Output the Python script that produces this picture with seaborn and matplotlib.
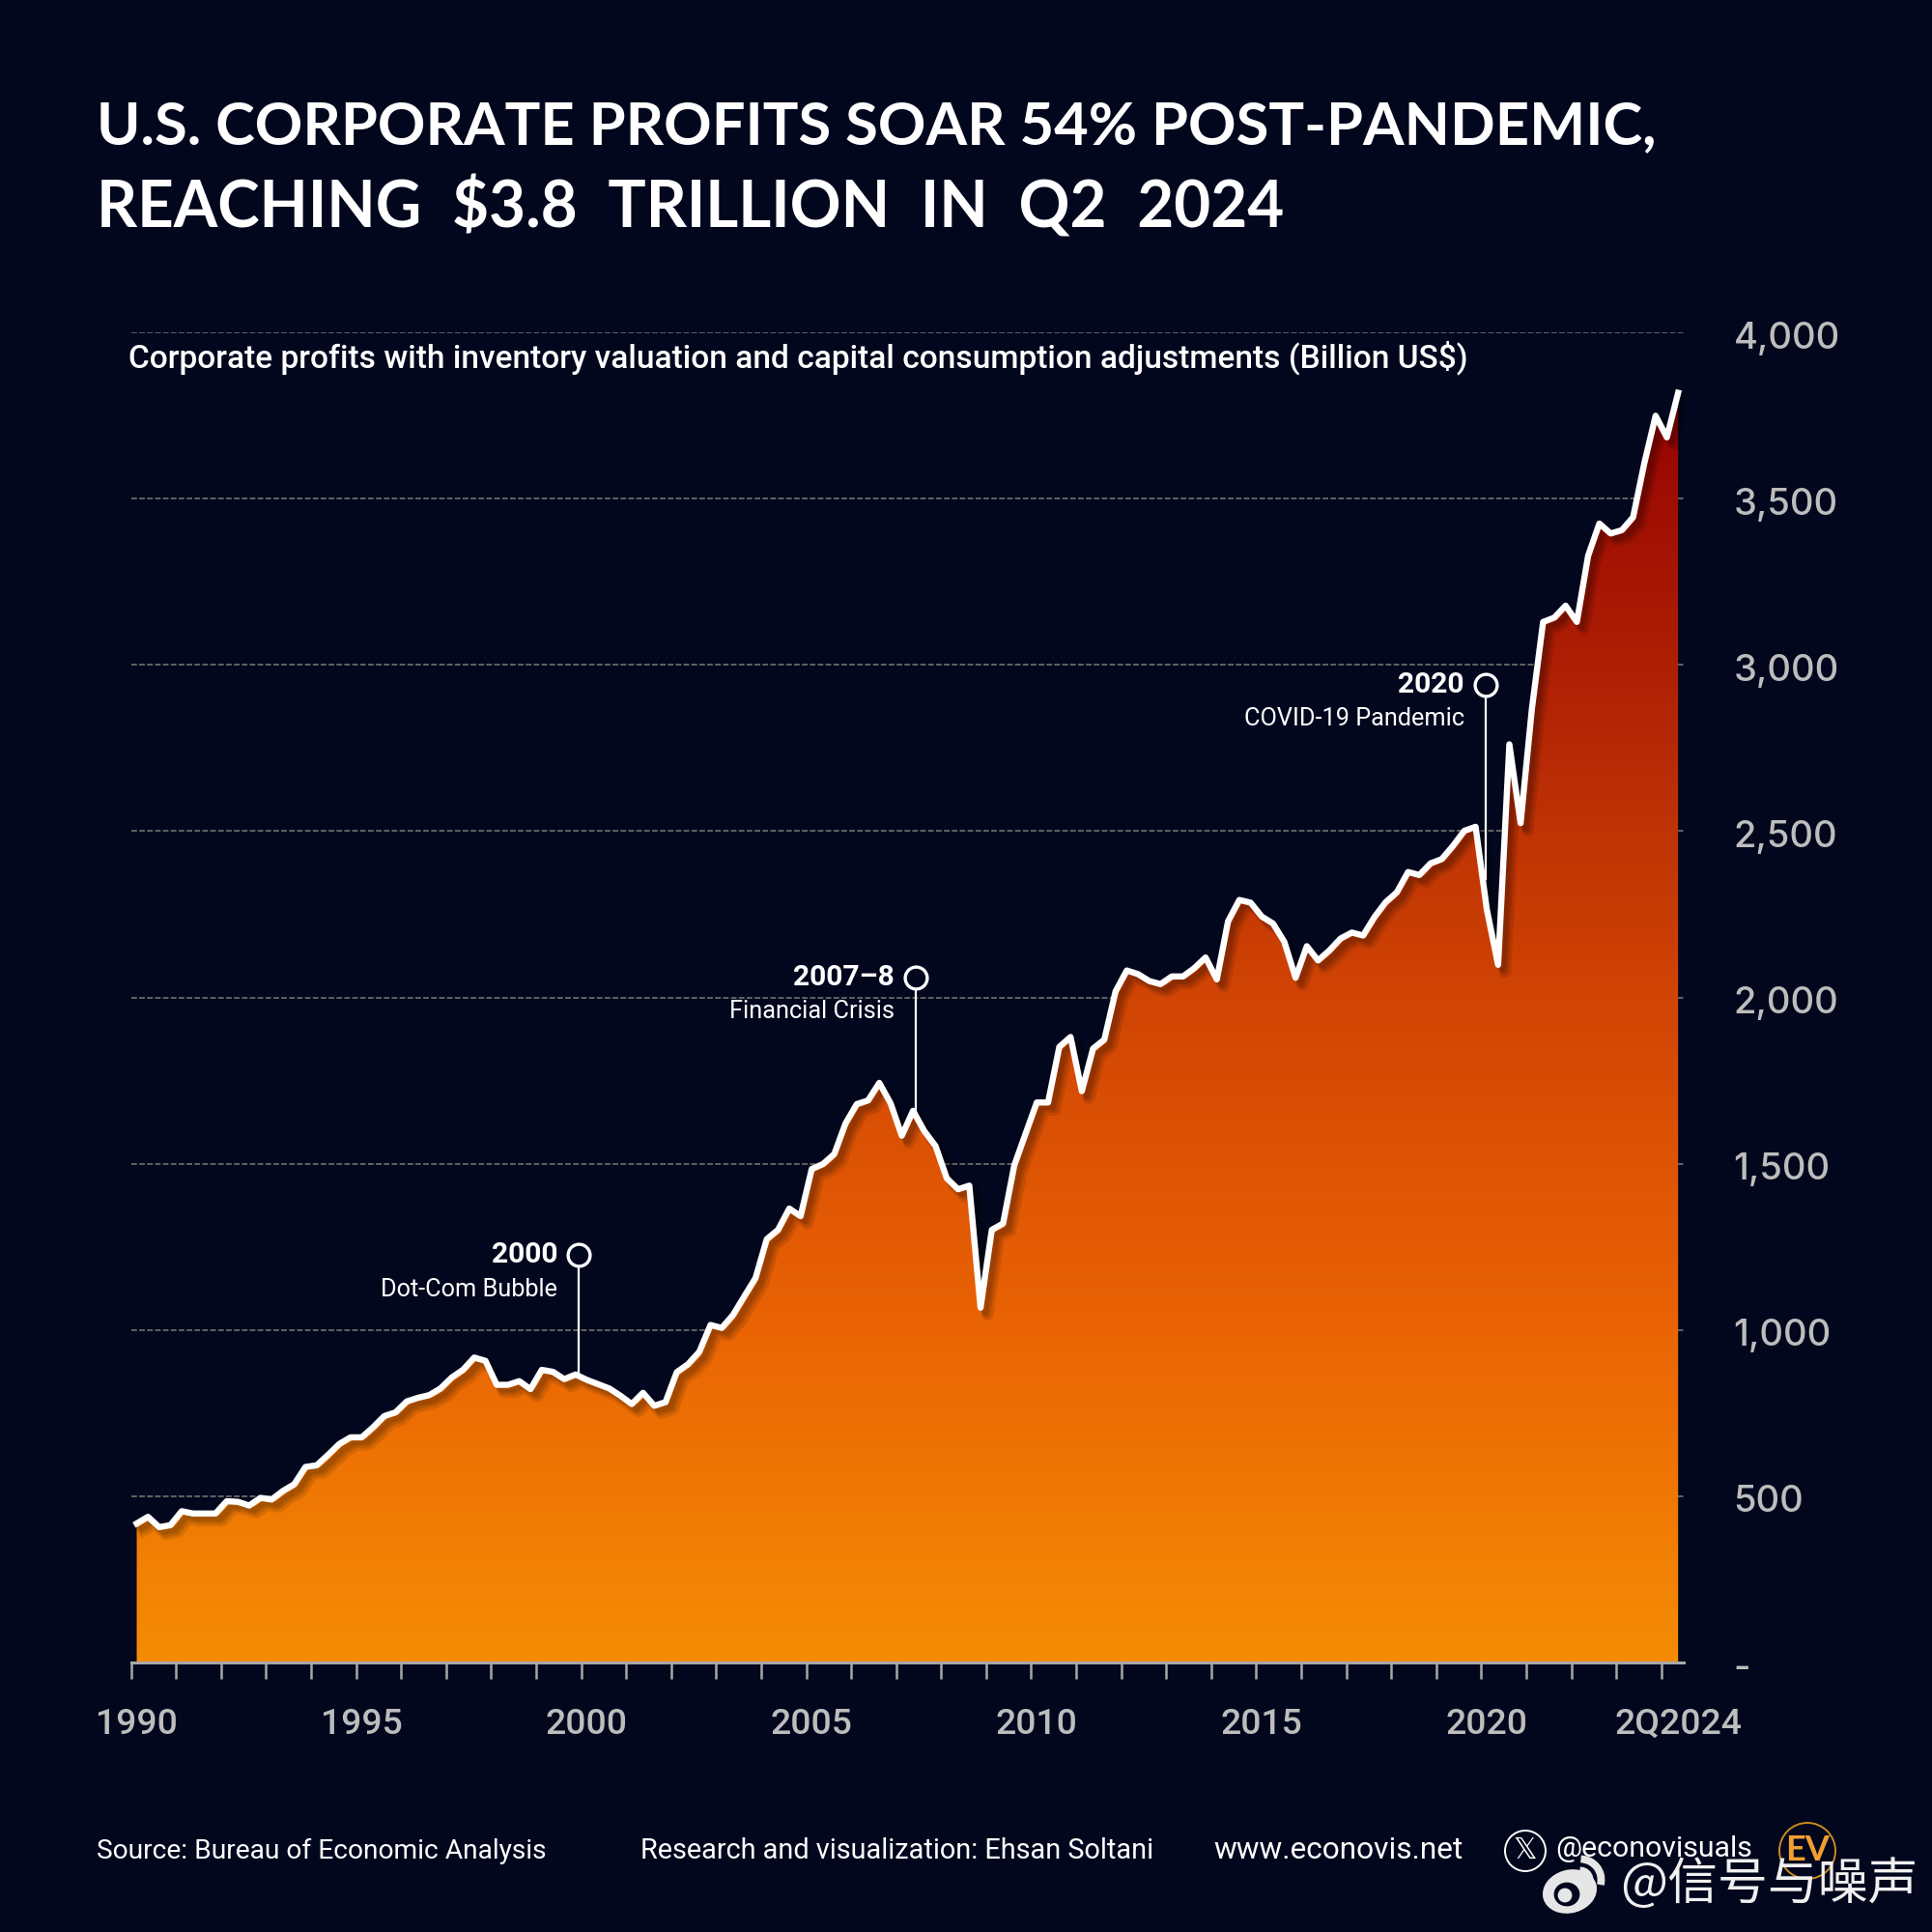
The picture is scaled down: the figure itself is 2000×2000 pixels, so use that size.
#!/usr/bin/env python
"""Plot U.S. corporate profits with a gradient area under the line."""
import matplotlib.pyplot as plt
import numpy as np
import seaborn as sns
from matplotlib import patheffects
from matplotlib.colors import LinearSegmentedColormap
from matplotlib.patches import Circle, Ellipse, Wedge
from matplotlib.transforms import ScaledTranslation

BG_COLOR = "#02071e"

# Quarterly values, 1Q1990 to 2Q2024
PROFITS = [
    418, 438, 407, 413, 455, 448, 448, 448, 485, 483,
    472, 495, 490, 516, 536, 588, 593, 624, 657, 677,
    677, 707, 741, 752, 785, 796, 804, 824, 857, 880,
    917, 907, 835, 835, 846, 822, 880, 874, 852, 866,
    850, 837, 824, 802, 777, 811, 772, 783, 873, 897,
    934, 1015, 1006, 1045, 1101, 1156, 1273, 1301, 1365, 1342,
    1484, 1499, 1529, 1621, 1679, 1690, 1743, 1682, 1584, 1659,
    1598, 1553, 1456, 1423, 1434, 1067, 1301, 1320, 1495, 1590,
    1684, 1684, 1851, 1881, 1718, 1846, 1873, 2018, 2081, 2070,
    2049, 2040, 2063, 2063, 2088, 2120, 2054, 2229, 2293, 2285,
    2243, 2222, 2167, 2059, 2154, 2111, 2141, 2177, 2195, 2186,
    2241, 2286, 2316, 2377, 2368, 2403, 2416, 2456, 2501, 2513,
    2264, 2098, 2761, 2524, 2867, 3129, 3142, 3178, 3129, 3328,
    3425, 3395, 3405, 3444, 3607, 3749, 3684, 3818,
]

Y_TICKS = [0, 500, 1000, 1500, 2000, 2500, 3000, 3500, 4000]
Y_LABELS = ["-", "500", "1,000", "1,500", "2,000", "2,500", "3,000", "3,500", "4,000"]
X_LABEL_YEARS = [1990, 1995, 2000, 2005, 2010, 2015, 2020]
LAST_LABEL = "2Q2024"

EVENT_YEARS = [1999.95, 2007.43, 2020.1]
EVENT_TOPS = [1226, 2060, 2940]
EVENT_BOTTOMS = [866, 1659, 2355]
EVENT_DATES = ["2000", "2007\u20138", "2020"]
EVENT_NAMES = ["Dot-Com Bubble", "Financial Crisis", "COVID-19 Pandemic"]

GRADIENT_LEVELS = [0, 1000, 2000, 2500, 3000, 3830]
GRADIENT_COLORS = ["#f58c05", "#ea6404", "#d04404", "#bf3305", "#ae1f05", "#960202"]

# Double spaces on the second line stand in for the wider tracking of the original
TITLE_LINES = [
    "U.S. CORPORATE PROFITS SOAR 54% POST-PANDEMIC,",
    "REACHING  $3.8  TRILLION  IN  Q2  2024",
]
SUBTITLE = "Corporate profits with inventory valuation and capital consumption adjustments (Billion US$)"
SOURCE = "Source: Bureau of Economic Analysis"
CREDIT = "Research and visualization: Ehsan Soltani"
WEBSITE = "www.econovis.net"
HANDLE = "@econovisuals"
WATERMARK = "@\u4fe1\u53f7\u4e0e\u566a\u58f0"

NARROW = "Roboto"


def fx(px):
    """Pixel column to figure fraction."""
    return px / 2000


def fy(px):
    """Pixel row (from the top) to figure fraction."""
    return 1 - px / 2000


def plot_area(ax, x, y):
    """Draw the gradient area and the white line."""
    cmap = LinearSegmentedColormap.from_list(
        "profits", [(lvl / GRADIENT_LEVELS[-1], c) for lvl, c in zip(GRADIENT_LEVELS, GRADIENT_COLORS)]
    )
    gradient = np.linspace(0, 1, 512).reshape(-1, 1)
    area = ax.fill_between(x, y, 0, color="none")
    im = ax.imshow(
        gradient, cmap=cmap, origin="lower", aspect="auto", zorder=2,
        extent=[1990, 2024.5, 0, GRADIENT_LEVELS[-1]],
    )
    im.set_clip_path(area.get_paths()[0], ax.transData)

    # Stacked shadows fake the soft blur of the original
    sns.lineplot(
        x=x, y=y, ax=ax, color="white", linewidth=2.3, zorder=4, errorbar=None,
        solid_joinstyle="round",
        path_effects=[
            patheffects.SimpleLineShadow(offset=(2.6, -2.6), shadow_color="black", alpha=0.1, linewidth=4.5),
            patheffects.SimpleLineShadow(offset=(2.2, -2.2), shadow_color="black", alpha=0.12, linewidth=3.2),
            patheffects.SimpleLineShadow(offset=(1.8, -1.8), shadow_color="black", alpha=0.12, linewidth=2.2),
            patheffects.Normal(),
        ],
    )


def plot_events(ax):
    """Draw the three event callouts."""
    for year, top, bottom, date, name in zip(
        EVENT_YEARS, EVENT_TOPS, EVENT_BOTTOMS, EVENT_DATES, EVENT_NAMES
    ):
        ax.plot([year, year], [top, bottom], color="white", linewidth=0.8, zorder=5)
        ax.plot(year, top, "o", ms=8.2, mfc=BG_COLOR, mec="white", mew=1.2, zorder=6)
        ax.annotate(date, (year, top), xytext=(-8, 0), textcoords="offset points", ha="right",
                    va="center", color="white", fontsize=10.8, family="Roboto", weight="bold", zorder=6)
        ax.annotate(name, (year, top), xytext=(-8, -12.8), textcoords="offset points", ha="right",
                    va="center", color="white", fontsize=9.1, family=NARROW, zorder=6)


def style_axes(ax, fig):
    """Set the limits, the grid and the tick labels."""
    ax.set_xlim(1990, 2024.5)
    ax.set_ylim(0, 4000)
    ax.set_xlabel("")
    ax.set_ylabel("")
    sns.despine(ax=ax, left=True, right=True, top=True)
    ax.spines["bottom"].set_color("#a8a8a8")
    ax.spines["bottom"].set_linewidth(1.1)
    ax.patch.set_alpha(0)

    # Labels sit in the middle of the first quarter, the marks on the year
    label_pos = [year + 0.125 for year in X_LABEL_YEARS] + [2024.375]
    ax.set_xticks(label_pos)
    ax.set_xticklabels([str(year) for year in X_LABEL_YEARS] + [LAST_LABEL],
                       family=NARROW, fontsize=13.4, color="#bdbdbd", weight="medium")
    ax.set_xticks(np.arange(1990, 2025), minor=True)
    ax.tick_params(axis="x", which="major", length=0, pad=17)
    ax.tick_params(axis="x", which="minor", length=6, width=0.9, color="#a8a8a8")

    ax.yaxis.tick_right()
    ax.set_yticks(Y_TICKS)
    ax.set_yticklabels(Y_LABELS, family="Inter", fontsize=13.7, color="#bdbdbd", weight="medium")
    ax.tick_params(axis="y", length=0, pad=18.5)
    nudge = ScaledTranslation(0, -2.5 / 200, fig.dpi_scale_trans)
    for label in ax.get_yticklabels():
        label.set_transform(label.get_transform() + nudge)
    ax.set_axisbelow(True)
    ax.grid(axis="y", color="#626262", linestyle=(0, (3, 1.2)), linewidth=0.7, zorder=1)
    ax.grid(axis="x", visible=False)


def add_texts(fig):
    """Write the title, the subtitle and the footer."""
    fig.text(fx(100), fy(131), TITLE_LINES[0], color="white", fontsize=22.1, family="Lato",
             weight="bold", va="center")
    fig.text(fx(100), fy(215), TITLE_LINES[1], color="white", fontsize=23.6, family="Lato",
             weight="bold", va="center")
    fig.text(fx(133), fy(370), SUBTITLE, color="white", fontsize=12.05, family=NARROW, weight="medium", va="center")

    fig.text(fx(100), fy(1916), SOURCE, color="white", fontsize=10.15, family=NARROW, va="center")
    fig.text(fx(663), fy(1916), CREDIT, color="white", fontsize=10.4, family=NARROW, va="center")
    fig.text(fx(1256), fy(1916), WEBSITE, color="white", fontsize=11.4, family=NARROW, va="center")
    fig.text(fx(1610), fy(1914), HANDLE, color="white", fontsize=10.9, family=NARROW, va="center")
    fig.text(fx(1579), fy(1916), "\U0001D54F", color="white", fontsize=11, family="DejaVu Sans",
             ha="center", va="center")
    fig.text(fx(1871), fy(1916), "EV", color="#f0a030", fontsize=13, family="Lato", weight="bold",
             ha="center", va="center")
    fig.text(fx(1677), fy(1951), WATERMARK, color="#f0f0f0", fontsize=18.7,
             family=["Noto Sans CJK SC", "DejaVu Sans"], va="center")


def add_badges(fig):
    """Draw the small round logos of the footer."""
    fig.add_artist(Circle((fx(1579), fy(1916)), fx(21), fill=False, ec="white", lw=0.7,
                          transform=fig.transFigure))
    fig.add_artist(Circle((fx(1871), fy(1916)), fx(29), fill=False, ec="#c98a20", lw=0.7,
                          transform=fig.transFigure))
    # Weibo eye with its two signal arcs
    fig.add_artist(Ellipse((fx(1625), fy(1958)), fx(54), fx(42), angle=15, color="#e6e6e6",
                           transform=fig.transFigure))
    fig.add_artist(Ellipse((fx(1622), fy(1961)), fx(24), fx(22), color=BG_COLOR,
                           transform=fig.transFigure))
    fig.add_artist(Circle((fx(1620), fy(1962)), fx(6), color="#e6e6e6", transform=fig.transFigure))
    fig.add_artist(Wedge((fx(1636), fy(1946)), fx(24), -10, 85, width=fx(5), color="#e6e6e6",
                         transform=fig.transFigure))
    fig.add_artist(Wedge((fx(1636), fy(1946)), fx(12), -10, 85, width=fx(4), color="#e6e6e6",
                         transform=fig.transFigure))


def main():
    x = 1990 + (np.arange(len(PROFITS)) + 0.5) / 4
    y = np.array(PROFITS)

    fig = plt.figure(figsize=(10, 10), dpi=200, facecolor=BG_COLOR)
    ax = fig.add_axes([fx(135.7), fy(1721), fx(1743 - 135.7), fx(1721 - 344)])

    plot_area(ax, x, y)
    plot_events(ax)
    style_axes(ax, fig)
    add_texts(fig)
    add_badges(fig)

    plt.savefig("out.png", dpi=200, facecolor=BG_COLOR)


if __name__ == "__main__":
    main()
